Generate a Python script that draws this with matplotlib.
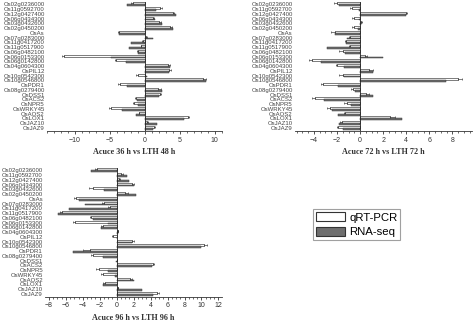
import numpy as np
import matplotlib
matplotlib.use('Agg')
import matplotlib.pyplot as plt
from matplotlib.patches import Patch
from matplotlib.ticker import MultipleLocator

# 基因名称（自上而下）
genes = ['Os02g0236000', 'Os11g0592700', 'Os12g0427400', 'Os06g0434300',
         'Os03g0432600', 'Os02g0450200', 'OsAs', 'Os07g0283000',
         'Os11g0417200', 'Os11g0517900', 'Os06g0482100', 'Os06g0153300',
         'Os06g0142800', 'Os04g0604300', 'OsPIL12', 'Os10g0542300',
         'Os10g0546800', 'OsPDR1', 'Os08g0279400', 'OsDSS1', 'OsACS2',
         'OsNPR5', 'OsWRKY45', 'OsAOS2', 'OsLOX1', 'OsJAZ10', 'OsJAZ9']

# Acuce 36 h vs LTH 48 h
qpcr_36 = [-1.7, 2.1, 4.0, 1.2, 2.0, 3.6, -3.7, 0.2, -0.3, -0.5, -1.0, -11.5, -4.1,
           3.3, 3.4, -1.0, 8.3, -3.5, 1.9, 2.1, -1.2, -1.5, -4.8, -0.8, 6.1, 0.3, 1.3]
err_36 = [0.3, 0.3, 0.2, 0.1, 0.3, 0.3, 0.1, 0.1, 0.1, 0.1, 0.1, 0.3, 0.2,
          0.3, 0.3, 0.3, 0.4, 0.3, 0.4, 0.2, 0.2, 0.2, 0.3, 0.1, 0.2, 0.1, 0.1]
rna_36 = [-2.5, 1.6, 4.4, 1.4, 2.5, 4.0, -3.7, 1.2, -2.0, -2.2, -1.0, -4.8, -2.7,
          3.6, 3.4, 0.3, 8.8, -2.6, 2.5, 2.0, -1.1, -1.0, -3.2, -1.3, 5.6, 1.7, 1.2]

# Acuce 72 h vs LTH 72 h
qpcr_72 = [-2.0, -0.7, 4.0, -0.5, 0.05, -0.5, -2.2, -0.9, -1.2, -0.9, -1.5, 0.4, -4.2,
           -2.0, 0.8, -1.5, 8.5, -3.2, -0.6, 0.5, -3.9, -1.1, -2.6, -1.3, 2.6, -1.6, -1.9]
err_72 = [0.3, 0.2, 0.1, 0.2, 0.1, 0.2, 0.3, 0.1, 0.1, 0.1, 0.3, 0.2, 0.2,
          0.1, 0.3, 0.3, 0.3, 0.2, 0.2, 0.3, 0.3, 0.3, 0.3, 0.1, 0.4, 0.1, 0.1]
rna_72 = [-1.8, -0.1, 4.0, -0.1, 0.05, -0.2, -2.2, -1.1, -1.2, -2.9, -1.3, 2.0, -3.4,
          -1.4, 1.1, -1.4, 7.4, -1.9, -0.4, 1.1, -3.1, -0.8, -2.4, -1.9, 3.6, -1.8, -1.5]

# Acuce 96 h vs LTH 96 h
qpcr_96 = [-2.3, 0.5, 0.3, 1.8, -2.8, 1.0, -4.8, -1.5, -0.8, -6.5, -3.0, -4.9, -1.6,
           0.1, -0.4, 1.8, 10.3, -3.2, -2.8, 0.0, 4.3, -2.1, -1.6, 1.6, -1.4, 0.1, 4.8]
err_96 = [0.3, 0.2, 0.1, 0.2, 0.5, 0.3, 0.2, 0.2, 0.2, 0.2, 0.2, 0.2, 0.2,
          0.1, 0.1, 0.2, 0.4, 0.8, 0.2, 0.0, 0.1, 0.3, 0.2, 0.2, 0.2, 0.1, 0.2]
rna_96 = [-3.0, 1.2, 1.5, 2.0, -1.5, 2.3, -4.4, -3.7, -5.6, -6.9, -2.8, -1.0, -1.8,
          0.2, 0.0, 1.8, 9.9, -5.1, -1.6, -0.1, 4.2, -1.0, -0.2, 2.0, -1.6, 3.0, 4.3]

panels = [
    dict(q=qpcr_36, e=err_36, r=rna_36, title='Acuce 36 h vs LTH 48 h',
         pos=[0.099, 0.592, 0.369, 0.402], xlim=(-14, 11), major=5, minor=1),
    dict(q=qpcr_72, e=err_72, r=rna_72, title='Acuce 72 h vs LTH 72 h',
         pos=[0.622, 0.592, 0.374, 0.402], xlim=(-5.65, 9.7), major=2, minor=0.5),
    dict(q=qpcr_96, e=err_96, r=rna_96, title='Acuce 96 h vs LTH 96 h',
         pos=[0.095, 0.075, 0.373, 0.402], xlim=(-8.45, 12.4), major=2, minor=0.5),
]

fig = plt.figure(figsize=(4.74, 3.21), dpi=100)
y = np.arange(len(genes))

for p in panels:
    ax = fig.add_axes(p['pos'])
    q = np.array(p['q'])
    e = np.array(p['e'])
    # 误差线只画向外的一侧
    xerr = [np.where(q < 0, e, 0), np.where(q >= 0, e, 0)]
    ax.barh(y - 0.2, q, height=0.4, color='white', edgecolor='#333333', linewidth=0.45,
            xerr=xerr, error_kw=dict(elinewidth=0.45, capsize=0.8, capthick=0.45, ecolor='#333333'))
    ax.barh(y + 0.2, p['r'], height=0.4, color='#6e6e6e', edgecolor='#3a3a3a', linewidth=0.35)
    ax.axvline(0, color='#222222', linewidth=0.6)

    ax.set_xlim(*p['xlim'])
    ax.set_ylim(26.65, -0.5)
    ax.set_yticks(y)
    ax.set_yticklabels(genes, fontsize=4.3, family='Liberation Sans', color='#444444')
    ax.tick_params(axis='y', length=0, pad=1.5)

    ax.xaxis.set_major_locator(MultipleLocator(p['major']))
    ax.xaxis.set_minor_locator(MultipleLocator(p['minor']))
    ax.tick_params(axis='x', which='major', length=2.5, width=0.6, labelsize=5, pad=1.5,
                   color='#333333', labelcolor='#333333')
    ax.tick_params(axis='x', which='minor', length=1.3, width=0.5, color='#333333')
    for lab in ax.get_xticklabels():
        lab.set_family('Liberation Sans')

    for s in ['top', 'right', 'left']:
        ax.spines[s].set_visible(False)
    ax.spines['bottom'].set_linewidth(0.6)
    ax.spines['bottom'].set_color('#333333')
    ax.set_facecolor('none')

    ax.set_xlabel(p['title'], fontsize=5.9, family='Liberation Serif', fontweight='bold',
                  color='#333333', labelpad=3.5)

handles = [Patch(facecolor='white', edgecolor='#333333', linewidth=0.8, label='qRT-PCR'),
           Patch(facecolor='#6e6e6e', edgecolor='#333333', linewidth=0.8, label='RNA-seq')]
leg = fig.legend(handles=handles, loc='lower left', bbox_to_anchor=(0.66, 0.252),
                 prop={'family': 'Liberation Sans', 'size': 8.2}, frameon=True, fancybox=False,
                 handlelength=2.6, handleheight=0.85, handletextpad=0.35, labelspacing=0.35,
                 borderpad=0.25, borderaxespad=0)
leg.get_frame().set_edgecolor('#888888')
leg.get_frame().set_linewidth(0.8)

plt.savefig('out.png', dpi=100)
